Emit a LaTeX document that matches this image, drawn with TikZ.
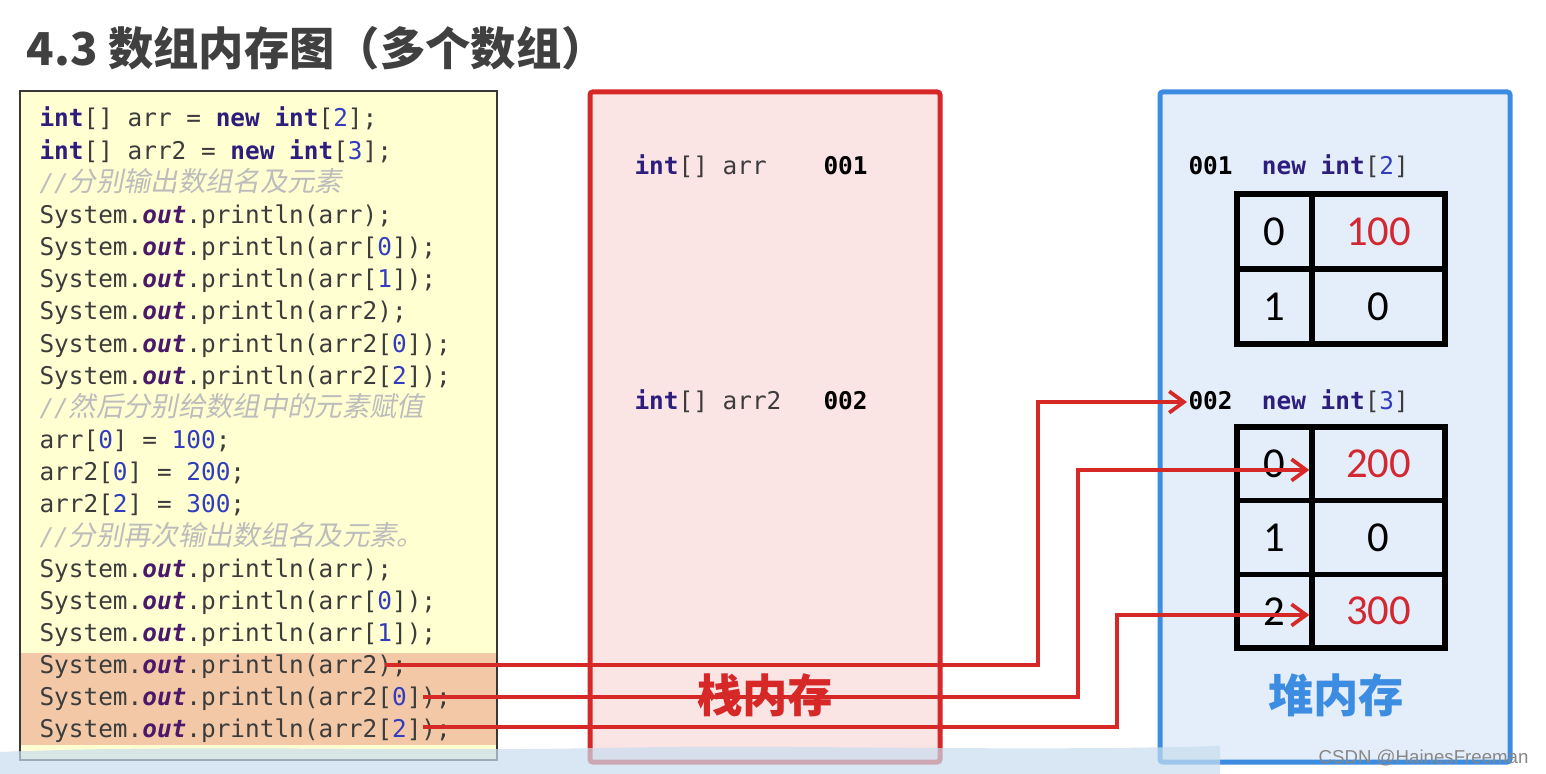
\documentclass[tikz,border=0pt]{standalone}
\usepackage{fontspec}
\setmonofont{DejaVu Sans Mono}
\newfontfamily\cjk{Noto Sans CJK SC}
\newfontfamily\cjksl[FakeSlant=0.2]{Noto Sans CJK SC}
\newfontfamily\cellfont{Carlito}
\newfontfamily\wmfont{Liberation Sans}
\usetikzlibrary{arrows.meta}

\definecolor{kwcol}{RGB}{45,30,125}
\definecolor{outcol}{RGB}{75,25,105}
\definecolor{numcol}{RGB}{50,60,190}
\definecolor{textcol}{RGB}{60,60,60}
\definecolor{cmtcol}{RGB}{188,188,188}
\definecolor{codebg}{RGB}{255,255,210}
\definecolor{hlcol}{RGB}{243,200,166}
\definecolor{boxgray}{RGB}{55,55,55}
\definecolor{stackred}{RGB}{215,40,40}
\definecolor{stackbg}{RGB}{250,228,228}
\definecolor{heapblue}{RGB}{60,140,225}
\definecolor{heapbg}{RGB}{228,238,250}
\definecolor{valred}{RGB}{210,40,50}
\definecolor{titlegray}{RGB}{64,64,64}
\definecolor{bandcol}{RGB}{200,222,238}

\newcommand{\kw}[1]{{\color{kwcol}\bfseries #1}}
\newcommand{\nm}[1]{{\color{numcol}#1}}
\newcommand{\outw}{{\color{outcol}\bfseries\itshape out}}
\newcommand{\cmt}[1]{{\color{cmtcol}{\itshape //}\cjksl\fontsize{20.5}{24}\selectfont #1}}
\newcommand{\codesize}{\ttfamily\fontsize{18.3}{22}\selectfont}

\tikzset{every picture/.style={line width=0.75pt}}
\tikzset{
  codeline/.style={anchor=base west, inner sep=0.75pt, text=textcol, font=\codesize},
  cell/.style={draw=black, line width=4pt, inner sep=0pt, minimum width=56.25pt, font=\cellfont\fontsize{32}{36}\selectfont},
  valcell/.style={cell, minimum width=99.75pt},
  memlabel/.style={inner sep=0.75pt, font=\cjk\bfseries\fontsize{34}{38}\selectfont},
  ref/.style={draw=stackred, line width=2.8pt, -{Straight Barb[length=11pt,width=16pt]}}
}

\begin{document}
\begin{tikzpicture}[x=0.75pt,y=0.75pt,yscale=-1,xscale=1]
\path[use as bounding box, fill=white] (0,0) rectangle (1546,774);

% Title
\draw (25,48) node [anchor=west][inner sep=0.75pt][text=titlegray, font=\cjk\bfseries\fontsize{34}{38}\selectfont] (title) {4.3 数组内存图（多个数组）};

%Shape: Rectangle [code]
\draw [draw=boxgray, fill=codebg, line width=1.5pt] (20,91) rectangle (497,760) ;
\fill [hlcol] (21,653) rectangle (496,745) ;
%Shape: Rectangle [stack]
\draw [draw=stackred, fill=stackbg, line width=3.75pt, rounded corners=2pt] (590,92) rectangle (940,762) ;
%Shape: Rectangle [heap]
\draw [draw=heapblue, fill=heapbg, line width=3.75pt, rounded corners=2pt] (1160,92) rectangle (1510,762) ;

% Code lines
\draw (38,127) node [codeline] (ln1) {\kw{int}[] arr = \kw{new} \kw{int}[\nm{2}];};
\draw (38,159.2) node [codeline] (ln2) {\kw{int}[] arr2 = \kw{new} \kw{int}[\nm{3}];};
\draw (38,191.3) node [codeline] (ln3) {\cmt{分别输出数组名及元素}};
\draw (38,223.5) node [codeline] (ln4) {System.\outw.println(arr);};
\draw (38,255.6) node [codeline] (ln5) {System.\outw.println(arr[\nm{0}]);};
\draw (38,287.8) node [codeline] (ln6) {System.\outw.println(arr[\nm{1}]);};
\draw (38,319.9) node [codeline] (ln7) {System.\outw.println(arr2);};
\draw (38,352.1) node [codeline] (ln8) {System.\outw.println(arr2[\nm{0}]);};
\draw (38,384.2) node [codeline] (ln9) {System.\outw.println(arr2[\nm{2}]);};
\draw (38,416.4) node [codeline] (ln10) {\cmt{然后分别给数组中的元素赋值}};
\draw (38,448.5) node [codeline] (ln11) {arr[\nm{0}] = \nm{100};};
\draw (38,480.7) node [codeline] (ln12) {arr2[\nm{0}] = \nm{200};};
\draw (38,512.8) node [codeline] (ln13) {arr2[\nm{2}] = \nm{300};};
\draw (38,545.0) node [codeline] (ln14) {\cmt{分别再次输出数组名及元素。}};
\draw (38,577.1) node [codeline] (ln15) {System.\outw.println(arr);};
\draw (38,609.3) node [codeline] (ln16) {System.\outw.println(arr[\nm{0}]);};
\draw (38,641.4) node [codeline] (ln17) {System.\outw.println(arr[\nm{1}]);};
\draw (38,673.6) node [codeline] (ln18) {System.\outw.println(arr2);};
\draw (38,705.7) node [codeline] (ln19) {System.\outw.println(arr2[\nm{0}]);};
\draw (38,737.9) node [codeline] (ln20) {System.\outw.println(arr2[\nm{2}]);};

% Stack entries
\draw (633,174) node [codeline] (var1) {\kw{int}[] arr};
\draw (822,174) node [codeline, text=black] (ptr1) {\textbf{001}};
\draw (633,409) node [codeline] (var2) {\kw{int}[] arr2};
\draw (822,409) node [codeline, text=black] (ptr2) {\textbf{002}};
\draw (765,695) node [memlabel, text=stackred] (stacklbl) {栈内存};

% Heap entries
\draw (1187,174) node [codeline] (addr1) {{\color{black}\textbf{001}}\ \ \kw{new} \kw{int}[\nm{2}]};
\draw (1187,409) node [codeline] (addr2) {{\color{black}\textbf{002}}\ \ \kw{new} \kw{int}[\nm{3}]};
\draw (1336,695) node [memlabel, text=heapblue] (heaplbl) {堆内存};

% Array 1
\node [cell, minimum height=56.25pt] (i10) at (1274.5,231.5) {0};
\node [valcell, minimum height=56.25pt, text=valred] (v10) at (1378.5,231.5) {100};
\node [cell, minimum height=56.25pt] (i11) at (1274.5,306.5) {1};
\node [valcell, minimum height=56.25pt] (v11) at (1378.5,306.5) {0};
% Array 2
\node [cell, minimum height=55.3pt] (i20) at (1274.5,463.8) {0};
\node [valcell, minimum height=55.3pt, text=valred] (v20) at (1378.5,463.8) {200};
\node [cell, minimum height=55.3pt] (i21) at (1274.5,537.5) {1};
\node [valcell, minimum height=55.3pt] (v21) at (1378.5,537.5) {0};
\node [cell, minimum height=55.3pt] (i22) at (1274.5,611.2) {2};
\node [valcell, minimum height=55.3pt, text=valred] (v22) at (1378.5,611.2) {300};

% References
\coordinate (src1) at (385,665);
\coordinate (src2) at (423,697);
\coordinate (src3) at (423,727);
\draw [ref] (src1) -- ++(653,0) |- ([yshift=1pt]addr2.west);
\draw [ref] (src2) -- ++(655,0) |- ([yshift=4.6pt]v20.west);
\draw [ref] (src3) -- ++(694,0) |- ([yshift=2.8pt]v22.west);

% Bottom band
\fill [bandcol, opacity=0.7] (0,752) .. controls (200,744) and (400,752) .. (600,748) .. controls (800,744) and (1000,752) .. (1220,746) -- (1220,774) -- (0,774) -- cycle ;

% Watermark
\draw (1530,758) node [anchor=east][inner sep=0.75pt][text={rgb,255:red,135;green,135;blue,135}, font=\wmfont\fontsize{14}{16}\selectfont] (wm) {CSDN @HainesFreeman};

\end{tikzpicture}
\end{document}
